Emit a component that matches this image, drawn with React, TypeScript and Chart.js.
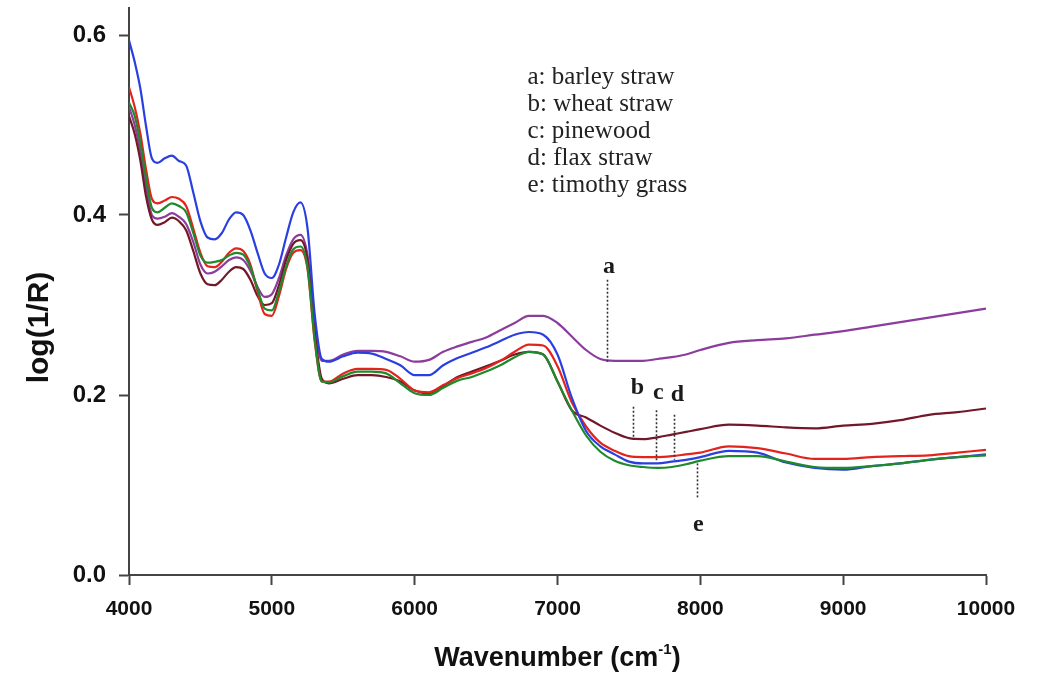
import React, { useEffect, useRef } from "react";
import { Chart, registerables } from "chart.js";

Chart.register(...registerables);

// Wavenumber grid (cm-1) shared by every spectrum
const WAVENUMBERS = [
  4000, 4040, 4080, 4120, 4160, 4200,
  4250, 4300, 4350, 4400, 4450, 4500, 4550, 4600, 4650, 4700, 4750, 4800,
  4850, 4900, 4950, 5000, 5050, 5100, 5150, 5200, 5250, 5300, 5350, 5400,
  5500, 5600, 5700, 5800, 5900, 6000, 6100, 6200, 6300, 6400, 6500, 6600,
  6700, 6800, 6900, 7000, 7100, 7200, 7300, 7400, 7500, 7600, 7700, 7800,
  7900, 8000,
  8200, 8400, 8600, 8800, 9000, 9200, 9400, 9600, 9800, 10000,
];

// log(1/R) for each biomass sample
const BARLEY_STRAW = [
  0.52, 0.5, 0.47, 0.43, 0.4, 0.396,
  0.398, 0.402, 0.398, 0.39, 0.37, 0.345, 0.335, 0.337, 0.343, 0.35, 0.353, 0.35,
  0.338, 0.32, 0.309, 0.312, 0.33, 0.355, 0.373, 0.378, 0.355, 0.28, 0.238, 0.238,
  0.245, 0.249, 0.249, 0.248, 0.243, 0.237, 0.239, 0.248, 0.254, 0.259, 0.264, 0.272,
  0.28, 0.288, 0.288, 0.28, 0.265, 0.25, 0.24, 0.238, 0.238, 0.238, 0.24, 0.242,
  0.245, 0.25,
  0.258, 0.261, 0.263, 0.267, 0.271, 0.276, 0.281, 0.286, 0.291, 0.296,
];

const WHEAT_STRAW = [
  0.51, 0.49, 0.46, 0.42, 0.395, 0.389,
  0.392, 0.397, 0.393, 0.383, 0.36, 0.335, 0.323, 0.322, 0.328, 0.337, 0.342, 0.34,
  0.328, 0.31, 0.3, 0.302, 0.322, 0.35, 0.368, 0.372, 0.35, 0.27, 0.218, 0.213,
  0.218, 0.222, 0.222, 0.22, 0.215, 0.205, 0.202, 0.21, 0.22, 0.226, 0.232, 0.238,
  0.245, 0.248, 0.245, 0.215, 0.183, 0.175, 0.166, 0.158, 0.152, 0.151, 0.153, 0.156,
  0.159, 0.162,
  0.167, 0.166, 0.164, 0.163, 0.166, 0.168, 0.172, 0.178, 0.181, 0.185,
];

const PINEWOOD = [
  0.542, 0.52, 0.49, 0.45, 0.418, 0.413,
  0.416, 0.42, 0.418, 0.41, 0.385, 0.358, 0.343, 0.342, 0.348, 0.358, 0.363, 0.36,
  0.345, 0.315, 0.29, 0.288, 0.31, 0.34, 0.358, 0.361, 0.34, 0.26, 0.215, 0.215,
  0.224, 0.229, 0.229, 0.228, 0.218, 0.205, 0.203, 0.211, 0.219, 0.224, 0.23, 0.238,
  0.248, 0.256, 0.255, 0.232, 0.192, 0.165, 0.147, 0.138, 0.132, 0.131, 0.131, 0.132,
  0.134, 0.136,
  0.143, 0.141, 0.135, 0.129, 0.129, 0.131, 0.132, 0.133, 0.136, 0.139,
];

const FLAX_STRAW = [
  0.594, 0.57, 0.54, 0.498, 0.463, 0.458,
  0.463, 0.466, 0.46, 0.455, 0.425, 0.393, 0.375, 0.373, 0.38, 0.395, 0.403, 0.4,
  0.383, 0.358, 0.335, 0.33, 0.345, 0.375, 0.403, 0.414, 0.385, 0.29, 0.24, 0.237,
  0.243, 0.247, 0.246, 0.24, 0.233, 0.222, 0.222, 0.233, 0.241, 0.247, 0.253, 0.26,
  0.267, 0.27, 0.267, 0.245, 0.197, 0.16, 0.143, 0.134, 0.126, 0.124, 0.124, 0.126,
  0.128, 0.131,
  0.138, 0.136, 0.125, 0.119, 0.117, 0.121, 0.124, 0.128, 0.131, 0.134,
];

const TIMOTHY_GRASS = [
  0.525, 0.51, 0.48, 0.44, 0.408, 0.403,
  0.408, 0.413, 0.41, 0.403, 0.38, 0.355, 0.347, 0.348, 0.35, 0.355, 0.358, 0.356,
  0.342, 0.318, 0.296, 0.294, 0.315, 0.343, 0.362, 0.365, 0.342, 0.262, 0.215, 0.214,
  0.221, 0.226, 0.226, 0.224, 0.213, 0.202, 0.2, 0.208, 0.216, 0.22, 0.226, 0.233,
  0.242, 0.248, 0.245, 0.215, 0.183, 0.155, 0.137, 0.127, 0.122, 0.12, 0.119, 0.12,
  0.123, 0.127,
  0.132, 0.132, 0.126, 0.12, 0.119, 0.121, 0.124, 0.128, 0.131, 0.133,
];

const X_TICKS = [4000, 5000, 6000, 7000, 8000, 9000, 10000];
const Y_TICKS = [0.0, 0.2, 0.4, 0.6];

// Key text shown in the upper part of the plot
const KEY_LINES = [
  "a: barley straw",
  "b: wheat straw",
  "c: pinewood",
  "d: flax straw",
  "e: timothy grass",
];

// Letter markers with dotted leaders (wavenumber, top/bottom log(1/R))
const MARKER_LETTERS = ["a", "b", "c", "d", "e"];
const MARKER_AT = [7350, 7531, 7692, 7818, 7979];
const MARKER_TOP = [0.328, 0.187, 0.183, 0.178, 0.124];
const MARKER_BOTTOM = [0.237, 0.15, 0.126, 0.128, 0.086];
const LETTER_AT = [7360, 7560, 7706, 7839, 7986];
const LETTER_Y = [0.342, 0.208, 0.203, 0.2, 0.056];

const SANS = '"Liberation Sans", Arial, sans-serif';
const SERIF = '"Liberation Serif", "Times New Roman", serif';

const toPoints = (vals: number[]) => WAVENUMBERS.map((x, i) => ({ x, y: vals[i] }));

const notesPlugin = {
  id: "spectraNotes",
  afterDatasetsDraw(chart: any) {
    const { ctx, scales } = chart;
    const xs = scales.x;
    const ys = scales.y;
    ctx.save();

    // dotted leaders
    ctx.setLineDash([2, 2]);
    ctx.lineWidth = 1.6;
    ctx.strokeStyle = "#333";
    MARKER_AT.forEach((w, i) => {
      const px = Math.round(xs.getPixelForValue(w)) + 0.5;
      ctx.beginPath();
      ctx.moveTo(px, ys.getPixelForValue(MARKER_TOP[i]));
      ctx.lineTo(px, ys.getPixelForValue(MARKER_BOTTOM[i]));
      ctx.stroke();
    });
    ctx.setLineDash([]);

    // marker letters
    ctx.fillStyle = "#1a1a1a";
    ctx.font = `bold 24px ${SERIF}`;
    ctx.textAlign = "center";
    ctx.textBaseline = "middle";
    MARKER_LETTERS.forEach((t, i) => {
      ctx.fillText(t, xs.getPixelForValue(LETTER_AT[i]), ys.getPixelForValue(LETTER_Y[i]));
    });

    // key
    ctx.font = `25px ${SERIF}`;
    ctx.textAlign = "left";
    ctx.fillStyle = "#222";
    const keyX = xs.getPixelForValue(6790);
    const keyY = ys.getPixelForValue(0.553);
    KEY_LINES.forEach((t, i) => ctx.fillText(t, keyX, keyY + i * 27));

    // y title
    ctx.fillStyle = "#111";
    ctx.font = `bold 30px ${SANS}`;
    ctx.textAlign = "center";
    ctx.translate(40, (chart.chartArea.top + chart.chartArea.bottom) / 2 + 36);
    ctx.rotate(-Math.PI / 2);
    ctx.fillText("log(1/R)", 0, 0);
    ctx.setTransform(1, 0, 0, 1, 0, 0);

    // x title with superscript
    const mainFont = `bold 27px ${SANS}`;
    const supFont = `bold 15px ${SANS}`;
    const partA = "Wavenumber (cm";
    const partB = "-1";
    const partC = ")";
    ctx.font = mainFont;
    const wA = ctx.measureText(partA).width;
    const wC = ctx.measureText(partC).width;
    ctx.font = supFont;
    const wB = ctx.measureText(partB).width;
    const cx = (chart.chartArea.left + chart.chartArea.right) / 2;
    const baseY = 666;
    let x0 = cx - (wA + wB + wC) / 2;
    ctx.textAlign = "left";
    ctx.textBaseline = "alphabetic";
    ctx.font = mainFont;
    ctx.fillText(partA, x0, baseY);
    x0 += wA;
    ctx.font = supFont;
    ctx.fillText(partB, x0, baseY - 12);
    x0 += wB;
    ctx.font = mainFont;
    ctx.fillText(partC, x0, baseY);

    ctx.restore();
  },
};

export default function App() {
  const ref = useRef<HTMLCanvasElement | null>(null);

  useEffect(() => {
    if (!ref.current) return;
    const line = (label: string, vals: number[], color: string) => ({
      label,
      data: toPoints(vals),
      borderColor: color,
      backgroundColor: color,
      borderWidth: 2.2,
      pointRadius: 0,
      cubicInterpolationMode: "monotone" as const,
      fill: false,
    });

    const chart = new Chart(ref.current, {
      type: "line",
      data: {
        datasets: [
          line("barley straw", BARLEY_STRAW, "#8c3c9c"),
          line("wheat straw", WHEAT_STRAW, "#721828"),
          line("pinewood", PINEWOOD, "#e3241d"),
          line("flax straw", FLAX_STRAW, "#2a3fe0"),
          line("timothy grass", TIMOTHY_GRASS, "#1f8a2c"),
        ].reverse(),
      },
      options: {
        responsive: false,
        animation: false,
        layout: { padding: { left: 0, top: 8, right: 76, bottom: 0 } },
        plugins: {
          legend: { display: false },
          tooltip: { enabled: false },
        },
        scales: {
          x: {
            type: "linear",
            min: 4000,
            max: 10000,
            afterBuildTicks: (s: any) => {
              s.ticks = X_TICKS.map((value) => ({ value }));
            },
            afterFit: (s: any) => {
              s.height = 114;
            },
            grid: {
              display: true,
              drawOnChartArea: false,
              drawTicks: true,
              tickLength: 10,
              tickWidth: 2,
              tickColor: "#444",
            },
            border: { display: true, color: "#444", width: 2 },
            ticks: {
              color: "#111",
              font: { family: SANS, size: 21, weight: "bold" },
              padding: 12,
              maxRotation: 0,
              autoSkip: false,
              callback: (v: any) => String(v),
            },
          },
          y: {
            type: "linear",
            min: 0,
            max: 0.63,
            afterBuildTicks: (s: any) => {
              s.ticks = Y_TICKS.map((value) => ({ value }));
            },
            afterFit: (s: any) => {
              s.width = 129;
              s.paddingTop = 0;
              s.paddingBottom = 0;
            },
            grid: {
              display: true,
              drawOnChartArea: false,
              drawTicks: true,
              tickLength: 10,
              tickWidth: 2,
              tickColor: "#444",
            },
            border: { display: true, color: "#444", width: 2 },
            ticks: {
              color: "#111",
              font: { family: SANS, size: 24, weight: "bold" },
              padding: 13,
              callback: (v: any) => Number(v).toFixed(1),
            },
          },
        },
      },
      plugins: [notesPlugin],
    });
    return () => chart.destroy();
  }, []);

  return (
    <div style={{ position: "absolute", left: 0, top: 0, width: 1062, height: 689, background: "#fff" }}>
      <canvas ref={ref} width={1062} height={689} />
    </div>
  );
}
